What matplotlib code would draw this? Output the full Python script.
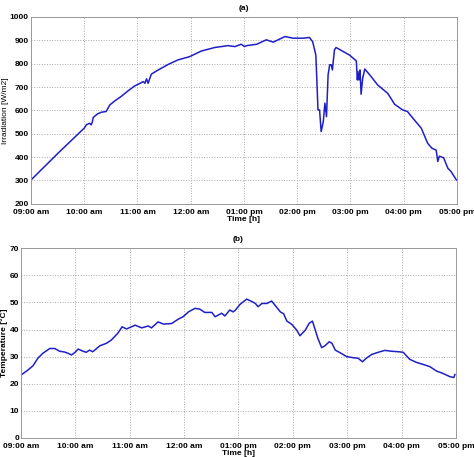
import matplotlib
matplotlib.use("Agg")
from matplotlib import pyplot as plt

# hours since midnight
irr_t = [9.00, 9.50, 10.00, 10.04, 10.10, 10.13, 10.15, 10.17, 10.25, 10.32, 10.41, 10.48,
         10.57, 10.69, 10.82, 10.95, 11.05, 11.11, 11.14, 11.17, 11.20, 11.26, 11.39, 11.58,
         11.76, 11.98, 12.20, 12.45, 12.70, 12.83, 12.95, 13.01, 13.05, 13.24, 13.42, 13.55,
         13.77, 13.92, 14.11, 14.23, 14.29, 14.35, 14.37, 14.39, 14.42, 14.45, 14.49, 14.52,
         14.55, 14.58, 14.61, 14.64, 14.66, 14.70, 14.73, 14.98, 15.11, 15.13, 15.14, 15.16,
         15.18, 15.20, 15.23, 15.27, 15.39, 15.51, 15.70, 15.83, 15.98, 16.07, 16.20, 16.33,
         16.45, 16.53, 16.61, 16.64, 16.67, 16.75, 16.83, 16.89, 16.99]
irr_v = [302, 415, 524, 538, 545, 538, 549, 570, 585, 592, 595, 623,
         640, 659, 683, 705, 716, 723, 716, 735, 716, 755, 773, 797,
         816, 830, 854, 869, 877, 873, 883, 873, 877, 883, 902, 892,
         916, 909, 909, 912, 894, 837, 723, 602, 602, 509, 552, 631,
         573, 752, 795, 795, 773, 859, 869, 837, 812, 730, 766, 730,
         773, 669, 738, 777, 744, 709, 673, 626, 602, 595, 559, 524,
         459, 438, 430, 381, 404, 397, 352, 338, 302]

temp_t = [9.00, 9.13, 9.22, 9.31, 9.40, 9.53, 9.62, 9.71, 9.80, 9.87, 9.93, 10.00,
          10.05, 10.14, 10.20, 10.26, 10.32, 10.45, 10.57, 10.66, 10.78, 10.86, 10.94,
          11.10, 11.22, 11.34, 11.40, 11.52, 11.62, 11.77, 11.89, 11.98, 12.08, 12.20,
          12.29, 12.38, 12.51, 12.57, 12.69, 12.75, 12.84, 12.90, 12.94, 13.03, 13.15,
          13.25, 13.31, 13.36, 13.43, 13.52, 13.61, 13.67, 13.77, 13.83, 13.89, 13.98,
          14.07, 14.13, 14.23, 14.30, 14.36, 14.40, 14.46, 14.53, 14.59, 14.67, 14.72,
          14.78, 14.89, 14.99, 15.11, 15.20, 15.28, 15.35, 15.45, 15.57, 15.69, 15.81,
          15.94, 16.03, 16.15, 16.27, 16.40, 16.52, 16.64, 16.76, 16.89, 16.96, 16.98]
temp_v = [23.2, 25.1, 26.6, 29.4, 31.2, 33.0, 33.0, 32.0, 31.7, 31.2, 30.6, 31.7,
          32.8, 32.0, 31.6, 32.4, 31.8, 34.0, 34.9, 36.1, 38.6, 41.0, 40.2,
          41.6, 40.6, 41.3, 40.6, 42.8, 42.0, 42.2, 43.8, 44.7, 46.5, 47.8,
          47.5, 46.3, 46.3, 44.7, 46.0, 45.0, 47.2, 46.5, 47.1, 49.3, 51.2,
          50.3, 49.6, 48.4, 49.6, 49.6, 50.5, 49.0, 46.5, 45.8, 43.1, 41.9,
          39.8, 37.7, 39.8, 42.3, 43.1, 40.6, 36.7, 33.3, 34.0, 35.5, 34.9,
          32.4, 31.2, 30.0, 29.6, 29.4, 28.1, 29.4, 30.8, 31.6, 32.3, 32.0,
          31.8, 31.6, 29.0, 27.9, 27.1, 26.3, 24.7, 23.8, 22.6, 22.3, 23.4]

hour_ticks = [9, 10, 11, 12, 13, 14, 15, 16, 17]
hour_labels = ["09:00 am", "10:00 am", "11:00 am", "12:00 am", "01:00 pm",
               "02:00 pm", "03:00 pm", "04:00 pm", "05:00 pm"]

plt.rcParams['font.family'] = ['Liberation Sans', 'DejaVu Sans']

fig = plt.figure(figsize=(4.74, 4.57), dpi=100)
ax1 = fig.add_axes([0.0654, 0.554, 0.8986, 0.409])
ax2 = fig.add_axes([0.0443, 0.0416, 0.9177, 0.4154])

line_col = "#1f1fc8"
fs = 6


def style(ax, yticks, ylim, ylabel, ylabel_weight):
    ax.set_xlim(9, 17)
    ax.set_ylim(*ylim)
    ax.set_xticks(hour_ticks)
    ax.set_xticklabels(hour_labels, fontsize=fs, fontweight="bold")
    ax.set_yticks(yticks)
    ax.set_yticklabels([str(v) for v in yticks], fontsize=fs, fontweight="bold")
    ax.tick_params(axis="x", length=0, pad=3.5)
    ax.tick_params(axis="y", length=0, pad=1.5)
    ax.grid(True, linestyle=":", color="#aaaaaa", linewidth=0.7)
    for s in ax.spines.values():
        s.set_color("#999999")
        s.set_linewidth(0.7)
    ax.set_xlabel("Time [h]", fontsize=fs, fontweight="bold", labelpad=0)
    ax.set_ylabel(ylabel, fontsize=fs, fontweight=ylabel_weight, labelpad=1)


ax1.plot(irr_t, irr_v, color=line_col, linewidth=1.1)
style(ax1, list(range(200, 1001, 100)), (200, 1000), "Irradiation [W/m2]", "normal")
ax1.set_title("(a)", fontsize=fs, fontweight="bold", pad=5)

ax2.plot(temp_t, temp_v, color=line_col, linewidth=1.1)
style(ax2, list(range(0, 71, 10)), (0, 70), "Temperature [°C]", "bold")
ax2.set_title("(b)", fontsize=fs, fontweight="bold", pad=5)

fig.savefig("out.png", dpi=100)
